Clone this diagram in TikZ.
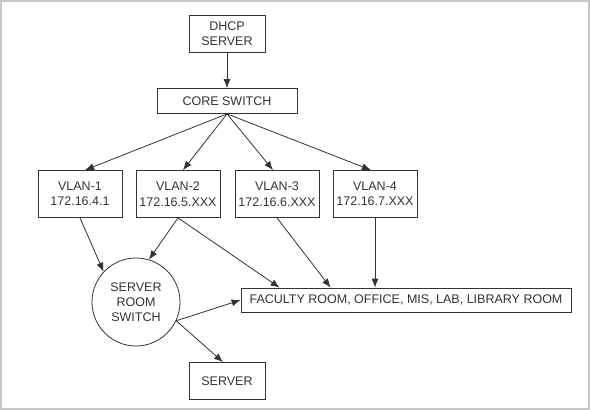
\documentclass[tikz,border=0pt]{standalone}
\usepackage{fontspec}
\setmainfont{Liberation Sans}
\usetikzlibrary{arrows.meta}
\definecolor{ink}{HTML}{333333}
\tikzset{
  box/.style={rectangle, draw=ink, line width=0.8pt, inner sep=0pt, align=center,
    text=ink, font=\fontsize{12.5}{15.5}\selectfont},
  link/.style={draw=ink, line width=0.8pt, -{Latex[length=9pt,width=7pt]}},
}
\begin{document}
\begin{tikzpicture}[x=1pt,y=-1pt]
        % frame
        \fill[white] (0,0) rectangle (590,410);
        \draw[black!22, line width=1.6pt] (1,1) rectangle (589,409);
        \useasboundingbox (0,0) rectangle (590,410);
        % nodes
        \node[box, minimum width=76pt, minimum height=37pt] at (227,33.5) (dhcp) {DHCP\\SERVER};
        \node[box, minimum width=140pt, minimum height=25pt] at (227,101) (core) {CORE SWITCH};
        \node[box, minimum width=84pt, minimum height=47pt] at (80,194) (vlan1) {VLAN-1\\172.16.4.1};
        \node[box, minimum width=84pt, minimum height=47pt] at (178,194) (vlan2) {VLAN-2\\172.16.5.XXX};
        \node[box, minimum width=84pt, minimum height=47pt] at (277,194) (vlan3) {VLAN-3\\172.16.6.XXX};
        \node[box, minimum width=84pt, minimum height=47pt] at (375,194) (vlan4) {VLAN-4\\172.16.7.XXX};
        \node[box, circle, minimum size=88pt, font=\fontsize{12.5}{15}\selectfont] at (136,302) (srs) {SERVER\\ROOM\\SWITCH};
        \node[box, minimum width=330pt, minimum height=24pt] at (406,300) (faculty) {FACULTY ROOM, OFFICE, MIS, LAB, LIBRARY ROOM};
        \node[box, minimum width=76pt, minimum height=37pt] at (227,381) (server) {SERVER};
        % links
        \draw[link] (dhcp) -- (core);
        \draw[link] (core.south) -- ([xshift=5pt]vlan1.north);
        \draw[link] (core.south) -- ([xshift=5pt]vlan2.north);
        \draw[link] (core.south) -- ([xshift=-4pt]vlan3.north);
        \draw[link] (core.south) -- ([xshift=-4pt]vlan4.north);
        \draw[link] (vlan1.south) -- (srs.137);
        \draw[link] (vlan2.south) -- (srs.73);
        \draw[link] (vlan2.south) -- ([xshift=39pt]faculty.north west);
        \draw[link] (vlan3.south) -- ([xshift=90pt]faculty.north west);
        \draw[link] (vlan4.south) -- (vlan4.south |- faculty.north);
        \draw[link] (srs.335) -- (faculty.west);
        \draw[link] (srs.335) -- ([xshift=-4pt]server.north);
      \end{tikzpicture}
\end{document}
